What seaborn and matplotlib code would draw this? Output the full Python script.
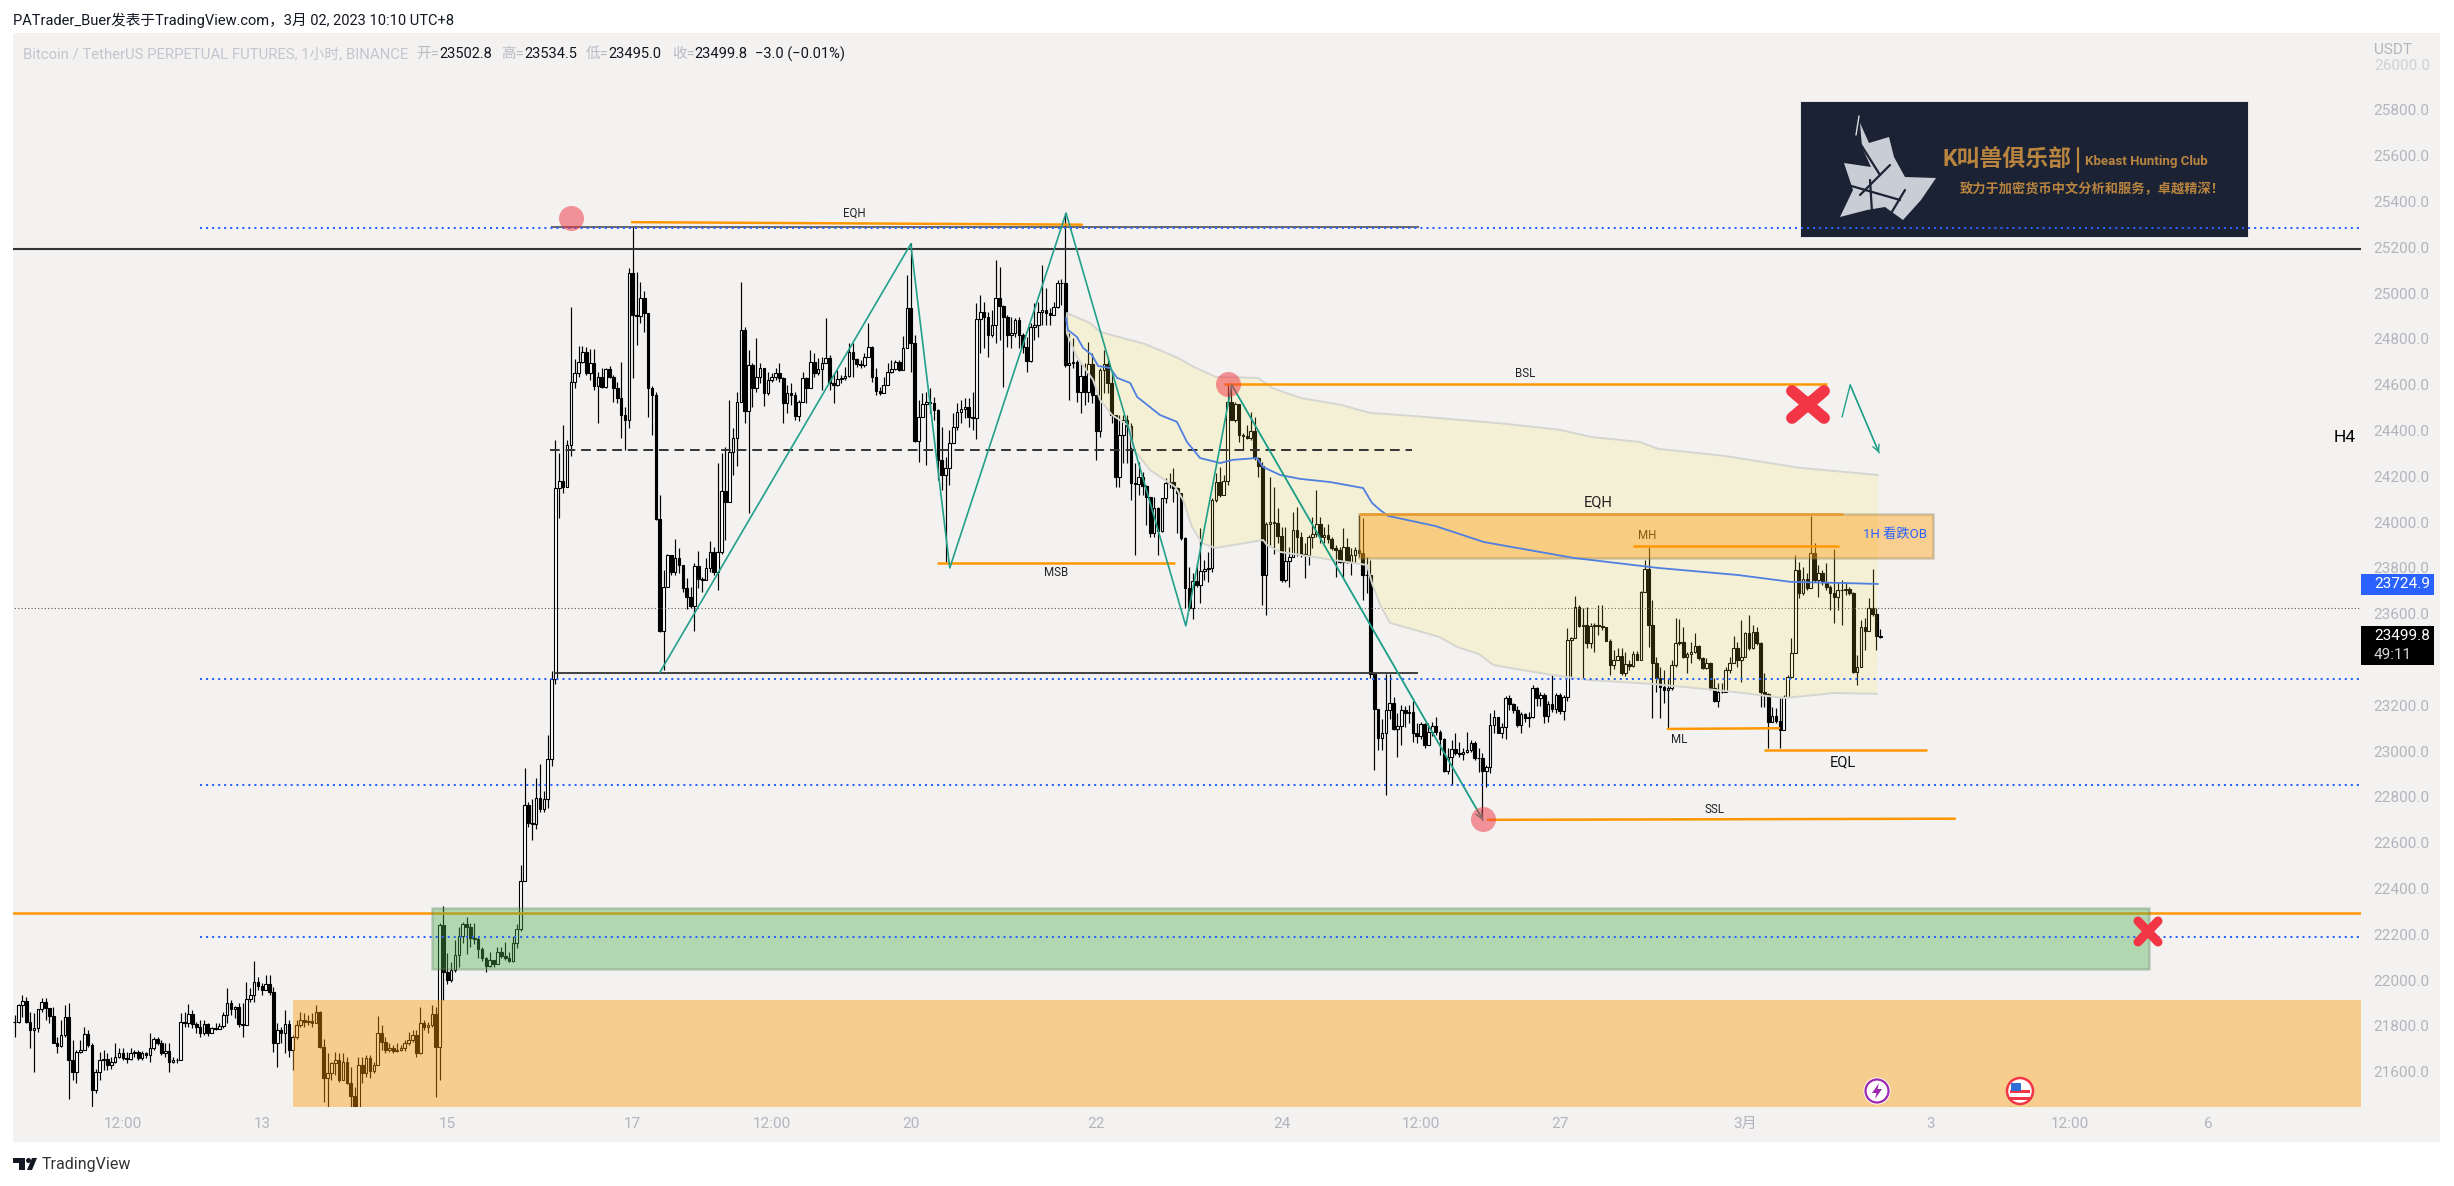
import numpy as np
import pandas as pd
import matplotlib
matplotlib.use("Agg")
import matplotlib.pyplot as plt
from matplotlib.patches import Rectangle, Circle, Polygon
import seaborn as sns

# hourly candles, one value per bar
closes = [
    21818,21891,21910,21818,21782,21789,21872,21903,21879,21843,
    21726,21712,21760,21840,21651,21600,21687,21697,21764,21716,
    21520,21600,21651,21654,21629,21643,21665,21680,21658,21654,
    21680,21684,21658,21683,21673,21702,21741,21726,21680,21692,
    21643,21651,21651,21815,21811,21850,21807,21796,21770,21807,
    21767,21789,21786,21801,21847,21901,21876,21881,21807,21804,
    21917,21935,21993,21974,21959,21981,21949,21726,21782,21770,
    21807,21694,21753,21804,21828,21818,21823,21814,21862,21709,
    21571,21593,21636,21651,21563,21643,21552,21494,21447,21629,
    21595,21658,21603,21629,21767,21731,21694,21705,21692,21694,
    21702,21724,21738,21760,21680,21811,21796,21804,21850,21709,
    22239,22037,22000,22044,22109,22192,22243,22231,22184,22179,
    22137,22098,22062,22090,22072,22122,22106,22098,22083,22160,
    22223,22434,22764,22688,22680,22797,22746,22792,22964,23315,
    24150,24181,24154,24337,24613,24650,24701,24742,24650,24694,
    24595,24632,24589,24669,24635,24584,24541,24468,24446,25090,
    24905,24900,24977,24912,24584,24555,24012,23526,23718,23856,
    23784,23842,23813,23711,23674,23634,23808,23750,23747,23798,
    23871,23784,23871,24136,24089,24308,24366,24526,24839,24487,
    24686,24584,24635,24672,24565,24621,24635,24653,24628,24522,
    24563,24555,24464,24526,24628,24584,24701,24650,24667,24696,
    24715,24606,24599,24624,24628,24638,24744,24711,24691,24685,
    24723,24766,24635,24574,24565,24599,24657,24667,24701,24664,
    24759,24934,24781,24356,24461,24516,24526,24519,24490,24271,
    24206,24235,24344,24417,24482,24493,24501,24461,24453,24886,
    24919,24897,24817,24861,24977,24944,24897,24817,24825,24883,
    24817,24766,24705,24854,24861,24919,24926,24912,24905,24941,
    25043,25046,24686,24693,24701,24570,24638,24570,24690,24555,
    24399,24664,24690,24609,24468,24195,24380,24446,24420,24172,
    24166,24198,24158,24111,23951,24060,23962,24104,24169,24176,
    24147,24128,23929,23711,23623,23743,23725,23788,23794,23798,
    24096,24176,24118,24181,24526,24446,24516,24380,24377,24366,
    24399,24278,24246,23769,23994,24002,23997,23939,23747,23830,
    23849,23965,23933,23863,23856,23933,23948,23994,23933,23943,
    23925,23885,23878,23827,23893,23827,23856,23878,23864,23769,
    23769,23337,23183,23056,23078,23180,23209,23096,23110,23180,
    23166,23173,23078,23064,23119,23027,23085,23110,23085,23052,
    22915,22976,23008,22994,22988,22998,23005,23037,22969,22972,
    22915,22930,23115,23151,23081,23104,23231,23205,23180,23115,
    23161,23144,23147,23275,23231,23246,23154,23206,23183,23246,
    23177,23238,23486,23493,23629,23547,23551,23471,23547,23551,
    23547,23540,23483,23377,23399,23416,23343,23381,23372,23425,
    23399,23696,23794,23551,23383,23318,23281,23267,23274,23376,
    23471,23478,23412,23424,23434,23459,23405,23361,23383,23274,
    23220,23259,23259,23354,23386,23449,23398,23412,23514,23449,
    23522,23471,23260,23249,23128,23153,23133,23092,23238,23325,
    23430,23791,23689,23750,23711,23864,23747,23776,23740,23715,
    23689,23672,23704,23704,23706,23689,23347,23369,23543,23526,
    23623,23599,23503,23500,
]
highs = [
    21847,21895,21935,21927,21862,21855,21876,21920,21920,21862,
    21884,21753,21825,21891,21901,21738,21694,21738,21796,21782,
    21724,21614,21687,21694,21680,21665,21724,21702,21702,21687,
    21702,21697,21694,21692,21687,21770,21753,21753,21738,21724,
    21724,21665,21661,21855,21862,21895,21869,21818,21825,21825,
    21811,21796,21811,21811,21862,21964,21913,21887,21898,21898,
    21993,21964,22083,22015,21986,22022,22022,21971,21811,21796,
    21869,21825,21760,21825,21862,21855,21847,21855,21891,21866,
    21745,21680,21643,21687,21680,21680,21665,21622,21534,21665,
    21665,21673,21673,21643,21843,21804,21753,21724,21716,21724,
    21716,21738,21775,21782,21782,21884,21825,21818,21891,21884,
    22250,22324,22120,22078,22176,22231,22254,22274,22250,22250,
    22187,22145,22101,22125,22090,22145,22145,22165,22122,22192,
    22246,22504,22925,22780,22789,22883,22945,22827,23070,23349,
    24357,24302,24423,24357,24941,24711,24771,24771,24766,24756,
    24756,24657,24672,24672,24682,24643,24613,24701,24504,25109,
    25290,25094,25047,25011,24890,24595,24570,24118,23791,23863,
    23856,23926,23885,23813,23754,23718,23820,23875,23761,23842,
    23919,23893,24257,24300,24330,24533,24410,24570,25050,24854,
    24752,24694,24803,24694,24674,24657,24653,24672,24694,24635,
    24599,24606,24570,24533,24657,24635,24752,24737,24715,24723,
    24890,24730,24650,24664,24643,24679,24781,24781,24715,24708,
    24737,24868,24769,24672,24592,24635,24694,24708,24708,24708,
    24813,25079,25218,24817,24533,24562,24570,24584,24548,24493,
    24417,24286,24402,24475,24519,24533,24541,24541,24570,24956,
    24992,24963,24919,24926,25145,25116,24948,24905,24894,24890,
    24897,24825,24810,24868,24956,24963,25123,25021,24934,24963,
    25057,25060,25349,24824,24803,24708,24701,24693,24788,24737,
    24548,24671,24752,24722,24650,24468,24468,24468,24468,24431,
    24257,24264,24220,24162,24111,24111,24067,24104,24191,24213,
    24235,24155,24108,23933,23805,23776,23820,23973,23834,23871,
    24104,24213,24242,24206,24606,24606,24526,24446,24388,24424,
    24482,24460,24286,24264,24002,24198,24155,24060,23980,23980,
    23893,24045,24067,23958,23907,23944,24024,24140,24024,23980,
    23994,23936,23900,23893,23973,23929,23885,23893,24031,24017,
    23849,23834,23318,23183,23139,23337,23337,23238,23166,23202,
    23195,23202,23217,23122,23129,23122,23122,23129,23151,23093,
    23056,23013,23049,23078,23042,23013,23085,23049,23045,23013,
    22991,22940,23166,23180,23151,23122,23241,23246,23212,23195,
    23173,23166,23169,23289,23279,23260,23253,23217,23333,23253,
    23253,23246,23537,23500,23678,23639,23624,23629,23559,23559,
    23639,23639,23544,23489,23442,23449,23449,23435,23399,23439,
    23439,23700,23835,23893,23660,23412,23369,23354,23318,23398,
    23580,23575,23543,23434,23478,23514,23463,23412,23405,23391,
    23318,23296,23296,23369,23412,23503,23478,23572,23522,23594,
    23551,23543,23478,23340,23252,23194,23187,23230,23245,23332,
    23492,23856,23827,23805,23776,24027,23910,23813,23791,23820,
    23725,23881,23740,23747,23740,23718,23696,23420,23572,23580,
    23667,23794,23623,23535,
]
lows = [
    21753,21811,21840,21814,21702,21600,21775,21862,21825,21811,
    21724,21680,21709,21753,21483,21563,21549,21680,21694,21709,
    21447,21505,21563,21607,21607,21614,21639,21658,21651,21639,
    21651,21665,21651,21651,21658,21643,21694,21716,21673,21665,
    21600,21639,21639,21651,21796,21796,21789,21767,21753,21760,
    21756,21767,21782,21786,21789,21811,21847,21833,21796,21753,
    21804,21906,21906,21957,21935,21957,21935,21687,21622,21724,
    21680,21665,21607,21745,21796,21796,21804,21796,21811,21702,
    21469,21447,21563,21585,21556,21563,21546,21447,21432,21491,
    21549,21578,21571,21593,21629,21694,21680,21687,21683,21687,
    21692,21692,21716,21731,21665,21677,21782,21767,21796,21491,
    21563,21913,21985,21993,22036,22059,22160,22114,22145,22156,
    22098,22083,22036,22059,22059,22070,22098,22087,22078,22080,
    22140,22215,22434,22668,22613,22660,22735,22735,22753,22936,
    23292,24017,24126,24154,24289,24584,24635,24694,24643,24621,
    24577,24432,24584,24584,24628,24526,24519,24366,24315,24410,
    24628,24774,24868,24832,24461,24381,24010,23522,23354,23718,
    23769,23769,23776,23696,23619,23623,23526,23711,23696,23747,
    23784,23769,23703,23861,23922,24089,24206,24247,24526,24432,
    24038,24504,24570,24606,24507,24555,24613,24621,24613,24434,
    24475,24511,24446,24443,24526,24519,24584,24635,24643,24577,
    24694,24577,24522,24595,24606,24621,24635,24635,24679,24672,
    24679,24723,24613,24555,24555,24563,24599,24650,24664,24661,
    24664,24759,24657,24352,24264,24461,24250,24475,24446,24184,
    24140,23827,24162,24344,24402,24431,24453,24417,24402,24362,
    24737,24759,24723,24810,24781,24795,24592,24766,24759,24810,
    24759,24737,24657,24701,24795,24810,24861,24861,24861,24905,
    24934,24948,24679,24533,24671,24526,24475,24511,24526,24520,
    24271,24373,24562,24562,24431,24155,24155,24257,24257,24096,
    23856,24118,24118,23987,23936,23933,23856,23958,24082,24147,
    24089,23951,23922,23623,23616,23579,23718,23645,23747,23740,
    23783,24089,24111,24118,24162,24446,24439,24351,24315,24361,
    24358,24271,24198,23638,23594,23900,23863,23907,23740,23740,
    23718,23849,23852,23849,23754,23812,23885,23936,23907,23907,
    23910,23878,23759,23820,23754,23820,23769,23820,23849,23660,
    23689,23318,22918,23005,23005,22809,23139,23093,22976,23027,
    23107,23122,23042,23035,23052,23013,23027,23064,23071,22984,
    22911,22901,22850,22984,22976,22962,22991,22998,22962,22911,
    22700,22842,22904,23081,23078,23056,23052,23180,23166,23107,
    23081,23129,23107,23144,23195,23195,23122,23129,23173,23166,
    23163,23136,23217,23318,23493,23544,23318,23449,23449,23435,
    23508,23530,23479,23333,23358,23399,23333,23326,23355,23366,
    23399,23398,23696,23456,23143,23259,23143,23209,23099,23267,
    23369,23463,23405,23340,23383,23427,23398,23357,23357,23267,
    23216,23194,23252,23259,23340,23383,23369,23303,23412,23441,
    23444,23463,23194,23194,23012,23128,23121,23012,23092,23238,
    23318,23427,23667,23682,23704,23711,23740,23674,23725,23704,
    23616,23561,23616,23551,23682,23682,23340,23289,23369,23441,
    23526,23590,23441,23495,
]

# anchored vwap and its band
vwap_bar = [272.2,272.7,275,276.6,278.9,280.5,283.6,285.4,288.8,290.6,296.5,300.9,303.5,306.9,312.1,315.4,
            321.6,323.2,327.6,332.8,340.6,349.1,351.4,353.5,355.6,367.8,380.4,403.5,425.5,446.2,459.9,473.6,482.4]
vwap_price = [24892,24839,24809,24761,24730,24682,24673,24630,24608,24547,24468,24438,24350,24280,24258,24272,
              24280,24241,24206,24189,24175,24149,24084,24053,24027,23983,23913,23844,23800,23769,23739,23734,23730]
upper_bar = [272.4,278.4,281,292.6,301.2,305.3,311,321.9,325.5,333,343.4,350.9,361.8,385.1,400.1,408.1,420.8,425.5,442.8,462.2,482.4]
upper_price = [24913,24870,24831,24778,24717,24678,24634,24630,24586,24542,24512,24477,24464,24431,24403,24372,24350,24320,24289,24237,24206]
lower_bar = [272.4,272.4,275,279.2,281,284.1,288.8,289.3,293.9,300.4,302.5,304.8,307.4,310.8,323.2,324.2,327.6,341.3,350.1,
             351.4,353.5,356.1,368.8,373.4,379.1,382.8,396.5,407.1,424.2,442.8,458.1,471.3,482.2]
lower_price = [24905,24826,24721,24621,24534,24468,24416,24328,24228,24154,24097,23979,23909,23887,23922,23900,23870,23835,23813,
               23734,23638,23560,23499,23455,23424,23376,23337,23311,23293,23263,23232,23254,23250]

# zigzag drawn by the author
zigzag_bar = [167,232,242.1,272.2,303.2,315.1,380.1]
zigzag_price = [23343,25215,23800,25350,23547,24599,22700]
small_arrow_bar = [473.1,475.2,482.7]
small_arrow_price = [24459,24599,24302]

hit_bar = [144,314.1,380.1]
hit_price = [25327,24603,22705]

dotted_levels = [25285,23317,22852,22188]
tick_bars = [28,64,112,160,196,232,280,328,364,400,448,496,532,568]
tick_names = ["12:00","13","15","17","12:00","20","22","24","12:00","27","3月","3","12:00","6"]
price_ticks = list(range(21600,26000,200))

TEAL = "#22a08a"
ORANGE = "#ff9800"
BLUE = "#2962ff"
PANE = "#f3f2f1"
GREY = "#b2b5be"

sns.set_theme(style="white")
plt.rcParams["font.family"] = ["Roboto", "Noto Sans CJK SC", "DejaVu Sans"]

W, H = 2454, 1186
fig = plt.figure(figsize=(W/100, H/100), dpi=100, facecolor="white")

back = fig.add_axes([0,0,1,1], zorder=0)
back.set_xlim(0,W); back.set_ylim(H,0); back.axis("off")
ax = fig.add_axes([13/W,(H-1107)/H,(2361-13)/W,(1107-33)/H], zorder=1)
ax.patch.set_alpha(0)
front = fig.add_axes([0,0,1,1], zorder=2)
front.set_xlim(0,W); front.set_ylim(H,0); front.axis("off")

# pane and logo banner
back.add_patch(Rectangle((13,33),2440-13,1142-33,fc=PANE,ec="none"))
back.add_patch(Rectangle((1800,101),448,136,fc="#1a2233",ec="#e6e6e6",lw=0.7))
back.add_patch(Polygon([(1860,123),(1869,143),(1889,137),(1894,157),(1905,177),(1936,178),(1921,200),(1903,220),
                        (1885,207),(1867,210),(1840,217),(1853,190),(1844,163),(1871,167),(1862,147)],fc="#c9ced6",ec="none"))
for seg in [[(1858,140),(1880,175)],[(1848,185),(1900,200)],[(1870,180),(1872,212)],[(1890,165),(1860,195)],[(1905,190),(1890,215)]]:
    back.plot(*zip(*seg),color="#1a2233",lw=1.6)
back.plot([1859,1856],[116,135],color="#d8dce0",lw=1)
GOLD = "#b8843f"
back.text(1942,159,"K叫兽俱乐部",color=GOLD,fontsize=16.5,fontweight="bold",va="center",ha="left")
back.plot([2078,2078],[148,172],color=GOLD,lw=1.6)
back.text(2085,162,"Kbeast Hunting Club",color=GOLD,fontsize=9.5,fontweight="bold",va="center",ha="left")
back.text(1960,189,"致力于加密货币中文分析和服务，卓越精深！",color=GOLD,fontsize=9.5,fontweight="bold",va="center",ha="left")

# candles
bars = np.arange(len(closes))
df = pd.DataFrame({"close":closes,"high":highs,"low":lows},index=bars)
df["open"] = df["close"].shift(1).fillna(df["close"])
up = df["close"] >= df["open"]
ax.vlines(df.index,df["low"],df["high"],color="black",lw=0.85,zorder=3)
ax.bar(df.index[up],(df["close"]-df["open"])[up],bottom=df["open"][up],width=0.68,color="white",edgecolor="black",lw=0.8,zorder=3)
ax.bar(df.index[~up],(df["close"]-df["open"])[~up],bottom=df["open"][~up],width=0.68,color="black",edgecolor="black",lw=0.8,zorder=3)

# horizontal levels
ax.hlines(25194,-1,608,color="#333333",lw=1.5,zorder=5)
ax.hlines(22293,-1,608,color=ORANGE,lw=1.8,zorder=3.5)
ax.hlines(23625,-1,608,color="#555555",lw=0.8,linestyles=[(0,(1,2))],zorder=3)
ax.hlines(dotted_levels,48,608,color=BLUE,lw=1.45,linestyles=[(0,(1,2))],zorder=6)
ax.hlines(25289,138.9,363.6,color="#444444",lw=1.1,zorder=5)
ax.hlines(23343,139.6,363.3,color="#333333",lw=1.3,zorder=5)
ax.hlines(24315,138.6,361.8,color="#333333",lw=1.4,linestyles=[(0,(5,3))],zorder=5)

# zones over the candles
ax.add_patch(Rectangle((72.1,21440),608-72.1,21913-21440,fc=(1,0.596,0,0.41),ec="none",zorder=4))
ax.add_patch(Rectangle((108,22050),552.6-108,22315-22050,fc=(0.3,0.686,0.314,0.4),ec=(0.4,0.5,0.4,0.35),lw=1.8,zorder=4))
ax.fill(upper_bar+lower_bar[::-1],upper_price+lower_price[::-1],fc=(1,0.92,0.23,0.15),ec="none",zorder=4)
ax.add_patch(Rectangle((348,23844),496.6-348,24036-23844,fc=(1,0.62,0.05,0.42),ec=(0.55,0.45,0.3,0.35),lw=1.8,zorder=4.2))

sns.lineplot(x=upper_bar,y=upper_price,ax=ax,color="#d6d6d0",lw=1.4,sort=False,estimator=None,legend=False,zorder=4.1)
sns.lineplot(x=lower_bar,y=lower_price,ax=ax,color="#d6d6d0",lw=1.4,sort=False,estimator=None,legend=False,zorder=4.1)
sns.lineplot(x=vwap_bar,y=vwap_price,ax=ax,color="#4f7fe0",lw=1.3,sort=False,estimator=None,legend=False,zorder=5)
sns.lineplot(x=zigzag_bar,y=zigzag_price,ax=ax,color=TEAL,lw=1.2,sort=False,estimator=None,legend=False,zorder=5.5)
sns.lineplot(x=small_arrow_bar,y=small_arrow_price,ax=ax,color=TEAL,lw=1.0,sort=False,estimator=None,legend=False,zorder=5.5)
for bar_vals, price_vals in [(zigzag_bar,zigzag_price),(small_arrow_bar,small_arrow_price)]:
    ax.annotate("",xy=(bar_vals[-1],price_vals[-1]),xytext=(bar_vals[-2],price_vals[-2]),zorder=5.5,
                arrowprops=dict(arrowstyle="->,head_length=0.4,head_width=0.2",color=TEAL,lw=1.0,shrinkA=0,shrinkB=0))

# orange marks
ax.plot([159.8,276.3],[25310,25299],color=ORANGE,lw=1.8,zorder=5.2)
ax.hlines(23823,238.8,300.4,color=ORANGE,lw=1.8,zorder=5.2)
ax.hlines(24603,313.1,469.2,color=ORANGE,lw=1.8,zorder=5.2)
ax.hlines(24036,348,473.3,color="#e89a2c",lw=1.8,zorder=5.2)
ax.hlines(23896,419,472.3,color=ORANGE,lw=1.8,zorder=5.2)
ax.plot([428,456.8],[23097,23100],color=ORANGE,lw=1.8,zorder=5.2)
ax.hlines(23007,452.9,495.1,color=ORANGE,lw=1.8,zorder=5.2)
ax.plot([381.4,502.3],[22700,22705],color=ORANGE,lw=1.8,zorder=5.2)

sns.scatterplot(x=hit_bar,y=hit_price,ax=ax,s=324,color="#f23645",alpha=0.52,linewidth=0,legend=False,zorder=6)

# notes on the chart
for bar_x,price_y,label,size,col in [(217.3,25350,"EQH",8.3,"#222222"),(391,24651,"BSL",8.3,"#222222"),(269.6,23778,"MSB",8.3,"#222222"),
                                     (410,24088,"EQH",10.6,"#222222"),(422.6,23940,"MH",8.3,"#8a5a10"),(431,23049,"ML",8.3,"#222222"),
                                     (473.4,22953,"EQL",10.6,"#111111"),(440,22745,"SSL",8.3,"#222222")]:
    ax.text(bar_x,price_y,label,fontsize=size,color=col,ha="center",va="center",zorder=7)
ax.text(606,24368,"H4",fontsize=12.5,color="black",ha="right",va="center",zorder=7)
ax.text(495,23944,"1H 看跌OB",fontsize=9.5,color=BLUE,ha="right",va="center",zorder=7)

# axes and scales; the 23400 label sits under the black price tag, so it stays blank
ax.set_xlim(-0.43,607.45)
ax.set_ylim(21446,26136)
ax.set(xlabel="",ylabel="")
ax.set_xticks(tick_bars)
ax.set_xticklabels(tick_names)
ax.yaxis.tick_right()
ax.set_yticks(price_ticks)
ax.set_yticklabels(["" if p == 23400 else f"{p:.1f}" for p in price_ticks])
ax.tick_params(axis="x",length=0,pad=7,labelsize=11,labelcolor=GREY)
ax.tick_params(axis="y",length=0,pad=9,labelsize=11,labelcolor=GREY)
for s in ax.spines.values():
    s.set_visible(False)
ax.grid(False)

# price axis header, tags, icons
front.text(2374,66,"26000.0",fontsize=11,color="#d0d0d6",va="center",ha="left")
front.add_patch(Rectangle((2370,40),60,24,fc=PANE,ec="none"))
front.text(2374,50,"USDT",fontsize=11,color=GREY,va="center",ha="left")
front.add_patch(Rectangle((2361,574),73,21,fc=BLUE,ec="none"))
front.text(2374,584.5,"23724.9",fontsize=11,color="white",va="center",ha="left")
front.add_patch(Rectangle((2361,626),73,39,fc="black",ec="none"))
front.text(2374,636,"23499.8",fontsize=11,color="white",va="center",ha="left")
front.text(2374,655,"49:11",fontsize=11,color="#d8d8d8",va="center",ha="left")

for (x0,y0),(x1,y1),wid in [((1792,391),(1824,418),8.5),((1824,391),(1792,418),8.5),((2138,921),(2158,942),6.5),((2158,921),(2138,942),6.5)]:
    front.plot([x0,x1],[y0,y1],color="#f23645",lw=wid,solid_capstyle="round")

front.add_patch(Circle((1877,1091),13.5,fc="white",ec="none"))
front.add_patch(Circle((1877,1091),11.5,fc="white",ec="#9c27b0",lw=1.6))
front.add_patch(Polygon([(1879,1083),(1872,1093),(1876.5,1093),(1875,1099),(1882,1089),(1877.5,1089)],fc="#9c27b0",ec="none"))
front.add_patch(Circle((2020,1091),13,fc="white",ec="#f23645",lw=1.8))
for sy in [1090,1097]:
    front.add_patch(Rectangle((2010,sy),20,3,fc="#f23645",ec="none"))
front.add_patch(Rectangle((2011,1083),10,8,fc="#2f6fd8",ec="none"))

# header and footer
front.text(13,20,"PATrader_Buer发表于TradingView.com，3月 02, 2023 10:10 UTC+8",fontsize=10.5,color="#131722",va="center",ha="left")
front.text(23,54,"Bitcoin / TetherUS PERPETUAL FUTURES, 1小时, BINANCE",fontsize=10.7,color="#c3c6ce",va="center",ha="left")
for x_pos,label,col in [(416,"开=","#b8bbc4"),(439,"23502.8","#131722"),(501,"高=","#b8bbc4"),(524,"23534.5","#131722"),
                        (586,"低=","#b8bbc4"),(608,"23495.0","#131722"),(672,"收=","#b8bbc4"),(694,"23499.8","#131722"),
                        (755,"−3.0 (−0.01%)","#131722")]:
    front.text(x_pos,54,label,fontsize=10.5,color=col,va="center",ha="left")

front.add_patch(Rectangle((13,1158),12,5,fc="#131722",ec="none"))
front.add_patch(Rectangle((19,1158),6,12,fc="#131722",ec="none"))
front.add_patch(Circle((28.5,1160.5),2.5,fc="#131722",ec="none"))
front.add_patch(Polygon([(27,1170),(32,1158),(37,1158),(32,1170)],fc="#131722",ec="none"))
front.text(42,1165,"TradingView",fontsize=11.5,color="#333333",va="center",ha="left")

fig.savefig("out.png",dpi=100,facecolor="white")
